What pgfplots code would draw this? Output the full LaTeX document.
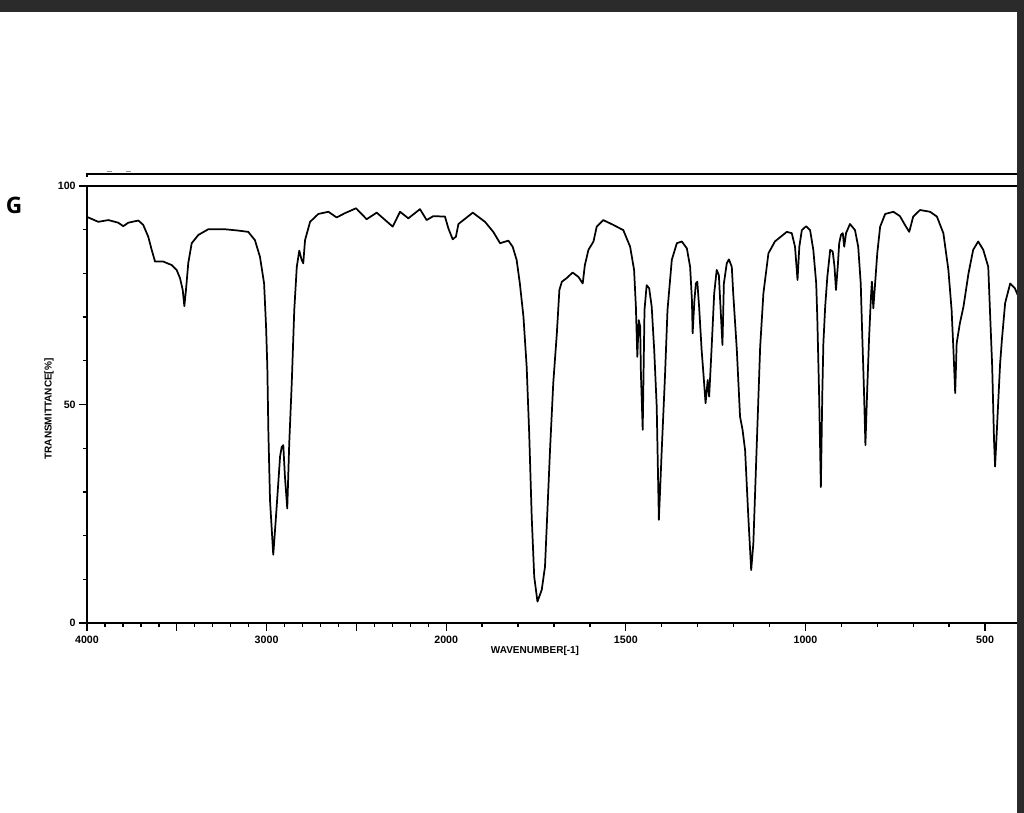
\documentclass[border=0pt]{standalone}
\usepackage{pgfplots}
\pgfplotsset{compat=1.18}
\usepackage{pgfplotstable}
\usepackage{fontspec}
\setmainfont{Liberation Sans}
\newfontfamily\gfont{Open Sans}

\pgfplotstableread{
w T
4000 92.9
3993 92.8
3937 91.8
3881 92.2
3826 91.6
3798 90.8
3770 91.6
3714 92.1
3687 91.1
3659 88.4
3640 85.4
3621 82.7
3575 82.7
3528 81.9
3501 80.8
3482 78.9
3467 76.2
3458 72.5
3449 76.2
3436 82.4
3417 86.9
3380 88.8
3325 90.1
3232 90.1
3158 89.8
3102 89.5
3065 87.6
3037 83.8
3014 77.7
3003 67.8
2996 58.6
2990 43.4
2981 28.1
2963 15.6
2949 23.6
2935 32.0
2925 38.1
2916 40.3
2907 40.7
2898 33.5
2885 26.2
2874 41.1
2860 54.9
2846 71.6
2832 81.5
2818 85.2
2805 83.1
2796 82.3
2786 87.6
2758 91.8
2712 93.6
2656 94.1
2610 92.8
2563 93.8
2502 94.9
2443 92.4
2387 93.9
2298 90.7
2257 94.1
2211 92.6
2146 94.7
2109 92.2
2072 93.1
2007 93.0
1994 90.3
1982 87.8
1973 88.4
1966 91.3
1926 93.9
1892 91.8
1869 89.5
1850 86.9
1827 87.5
1815 86.1
1804 83.1
1795 77.7
1785 70.1
1776 58.6
1769 43.4
1762 24.3
1755 10.6
1746 4.9
1734 7.6
1725 12.9
1719 24.3
1711 39.6
1702 54.9
1692 66.3
1685 76.2
1678 78.1
1665 78.9
1648 80.2
1632 79.2
1620 77.7
1614 81.9
1604 85.4
1590 87.3
1581 90.7
1563 92.2
1535 91.1
1507 89.9
1488 86.1
1477 80.8
1472 72.4
1468 60.9
1464 69.3
1460 67.8
1458 57.1
1453 44.2
1448 71.6
1442 77.3
1435 76.6
1428 72.4
1421 62.5
1414 49.5
1408 23.6
1400 39.6
1391 56.4
1384 71.6
1372 83.1
1358 86.9
1344 87.3
1330 85.7
1321 81.5
1316 73.9
1314 66.3
1309 73.9
1305 77.7
1301 78.1
1296 72.4
1289 62.5
1284 57.1
1278 50.3
1272 55.6
1268 51.8
1261 63.2
1254 75.4
1247 80.8
1241 79.6
1236 71.6
1231 63.6
1227 77.7
1219 82.3
1213 83.2
1205 81.5
1201 75.4
1191 62.5
1182 47.2
1175 44.2
1168 39.6
1159 24.3
1151 12.1
1145 18.2
1136 39.6
1126 63.2
1117 75.4
1103 84.6
1085 87.3
1052 89.5
1038 89.2
1029 86.1
1022 78.5
1017 86.1
1010 89.9
998 90.8
987 89.9
978 85.4
970 77.7
967 70.1
962 52.6
957 31.1
953 52.6
950 64.0
945 72.4
939 79.2
931 85.4
924 85.0
919 81.5
915 76.2
910 81.5
906 86.9
901 88.8
896 89.2
892 86.1
887 89.2
876 91.3
862 89.9
853 86.1
846 77.7
842 66.3
837 53.3
833 40.7
828 53.3
823 64.8
818 73.9
815 78.1
811 72.0
806 77.7
800 84.6
792 90.7
778 93.6
755 94.1
737 93.1
723 91.1
711 89.5
700 93.0
681 94.5
653 94.1
634 93.0
616 89.2
602 80.8
593 71.6
588 62.5
583 52.6
579 64.0
570 68.6
560 72.4
546 80.0
533 85.4
519 87.3
505 85.4
491 81.5
486 70.9
480 58.6
475 41.9
472 35.8
467 44.2
463 51.0
458 59.4
453 64.8
444 73.2
430 77.7
417 76.6
407 74.7
}\spectrum

\begin{document}
\begin{tikzpicture}
\begin{scope}[x=0.75pt,y=0.75pt]
\useasboundingbox (0,0) rectangle (1024,813);
\fill[white] (0,0) rectangle (1024,813);
\end{scope}
\begin{axis}[
  at={(65.25pt,142.5pt)}, anchor=south west,
  scale only axis, width=697.5pt, height=327.75pt,
  xmin=0, xmax=5.178, ymin=0, ymax=100,
  axis x line*=box, axis y line*=left,
  xtick pos=left, ytick pos=left,
  axis line style={black, line width=1.5pt},
  xtick={0,1,2,3,4,5},
  xticklabels={4000,3000,2000,1500,1000,500},
  minor xtick={0.1,0.2,0.3,0.4,0.6,0.7,0.8,0.9,1.1,1.2,1.3,1.4,1.6,1.7,1.8,1.9,2.2,2.4,2.6,2.8,3.2,3.4,3.6,3.8,4.2,4.4,4.6,4.8},
  extra x ticks={0.5,1.5}, extra x tick labels={},
  ytick={0,50,100},
  minor ytick={10,20,30,40,60,70,80,90},
  tick align=outside,
  major tick length=6pt, minor tick length=3pt,
  tick style={black, line width=1pt},
  ticklabel style={font=\fontsize{8}{9}\selectfont\bfseries},
  /pgf/number format/assume math mode=true,
  xticklabel style={yshift=-0.5pt},
  yticklabel style={xshift=1pt},
]
\addplot[black, line width=1.3pt, line join=round]
  table[x expr={\thisrow{w}>1999.5 ? (4000-\thisrow{w})/1000 : 2+(2000-\thisrow{w})/500}, y=T] {\spectrum};
\end{axis}
\begin{scope}[x=0.75pt,y=0.75pt]
\fill[black!83] (0,801) rectangle (1024,813);
\fill[black!83] (1017,0) rectangle (1024,801);
\draw[black, line width=1.1pt] (87,636) -- (87,639) -- (1017,639);
\draw[black!45, line width=0.8pt] (107,641.5) -- (112,641.5);
\draw[black!45, line width=0.8pt] (126,641.5) -- (131,641.5);
\node[font=\gfont\bfseries\fontsize{17}{19}\selectfont] at (14,608) {G};
\node[rotate=90, font=\fontsize{7.5}{8}\selectfont\bfseries] at (49,404) {TRANSMITTANCE[\%]};
\node[font=\fontsize{7.5}{8}\selectfont\bfseries] at (535,162) {WAVENUMBER[-1]};
\end{scope}
\end{tikzpicture}
\end{document}
